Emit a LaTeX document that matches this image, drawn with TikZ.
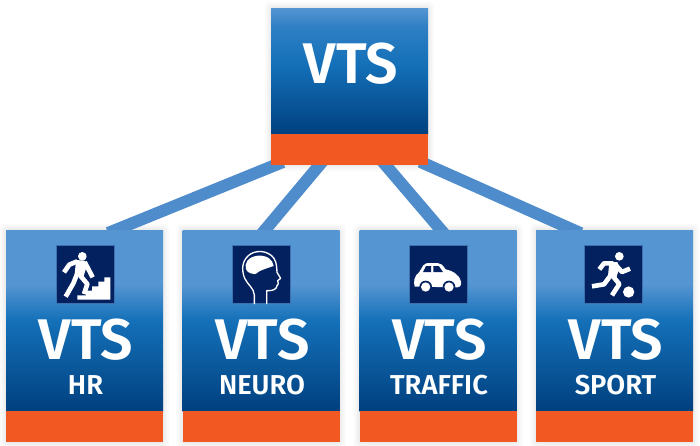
\documentclass[tikz,border=0pt]{standalone}
\usepackage{fontspec}
\setmainfont{Fira Sans}
\newfontfamily\vtsfont[UprightFont=* SemiBold,BoldFont=* SemiBold]{Fira Sans}
\usetikzlibrary{backgrounds}
\definecolor{vtsA}{HTML}{5595D2}
\definecolor{vtsB}{HTML}{1470B8}
\definecolor{vtsB2}{HTML}{2F7FC4}
\definecolor{vtsC}{HTML}{00407F}
\definecolor{vtsOrange}{HTML}{F25822}
\definecolor{vtsLine}{HTML}{4F8CCB}
\definecolor{vtsNavy}{HTML}{03215F}
\pgfdeclareverticalshading{topgrad}{100bp}{color(0bp)=(vtsC); color(25bp)=(vtsC); color(52.5bp)=(vtsB); color(67.5bp)=(vtsB2); color(75bp)=(vtsA); color(100bp)=(vtsA)}
\pgfdeclareverticalshading{lowgrad}{100bp}{color(0bp)=(vtsC); color(25bp)=(vtsC); color(50bp)=(vtsB); color(60bp)=(vtsA); color(100bp)=(vtsA)}
\tikzset{
  tilebox/.style={inner sep=0pt,outer sep=0pt,minimum width=157*0.75pt,anchor=north west},
  bandbox/.style={inner sep=0pt,outer sep=0pt,minimum width=157*0.75pt,minimum height=31*0.75pt,anchor=north west,fill=vtsOrange},
  bigvts/.style={inner sep=0pt,outer sep=0pt,anchor=base,text=white,font=\vtsfont\fontsize{43}{43}\selectfont},
  subvts/.style={inner sep=0pt,outer sep=0pt,anchor=base,text=white,font=\vtsfont\fontsize{20.5}{21}\selectfont},
  iconbox/.style={inner sep=0pt,outer sep=0pt,minimum width=58*0.75pt,minimum height=58*0.75pt,anchor=north west,fill=vtsNavy,draw=vtsA!70!vtsNavy,line width=.3pt},
  link/.style={draw=vtsLine,line width=12*0.75pt,shorten >=-6pt,shorten <=-6pt},
  icon/.style={x=0.25pt,y=-0.25pt},
  iconfill/.style={fill=white,draw=none},
  limb/.style={draw=white,line width=3.5pt,line join=round,line cap=butt},
}
\newcommand{\softshadow}[4]{%
  \begin{pgfonlayer}{background}
  \foreach \s in {1,2.5,4,6}{
    \fill[black,opacity=.018,rounded corners=3pt] (#1-\s,#2-\s) rectangle (#3+\s,#4+\s);
  }
  \end{pgfonlayer}}
\newcommand{\lowertile}[4]{%
  \softshadow{#2}{230}{#2+157}{442}
  \node[tilebox,minimum height=181*0.75pt,shade,shading=lowgrad] (#1) at (#2,230) {};
  \node[bandbox] (#1band) at (#2,411) {};
  \node[iconbox] (#1icon) at (#2+#3,245) {};
  \node[bigvts] (#1vts) at (#2+80,359) {VTS};
  \node[subvts] (#1sub) at (#2+79.5,394.5) {#4};
}
\begin{document}
\begin{tikzpicture}[x=0.75pt,y=-0.75pt]
\useasboundingbox (0,0) rectangle (700,446);
\begin{pgfonlayer}{background}
\fill[white] (0,0) rectangle (700,446);
\end{pgfonlayer}

\softshadow{271}{8}{428}{165}
\node[tilebox,minimum height=126*0.75pt,shade,shading=topgrad] (top) at (271,8) {};
\node[bandbox] (topband) at (271,134) {};
\node[bigvts] (topvts) at (351,83) {VTS};

\lowertile{hr}{6}{49.7}{HR}
\lowertile{neuro}{182.5}{49.5}{NEURO}
\lowertile{traffic}{359.5}{49.5}{TRAFFIC}
\lowertile{sport}{536}{48}{SPORT}

\begin{pgfonlayer}{background}
\path[link] ([xshift=-74*0.75pt]topband.south) -- ([xshift=31*0.75pt]hr.north);
\path[link] ([xshift=-30*0.75pt]topband.south) -- ([xshift=4*0.75pt]neuro.north);
\path[link] ([xshift=36*0.75pt]topband.south) -- ([xshift=3*0.75pt]traffic.north);
\path[link] ([xshift=78*0.75pt]topband.south) -- ([xshift=-41*0.75pt]sport.north);
\end{pgfonlayer}

% stairs walker
\begin{scope}[shift={(50,240)},icon]
\fill[iconfill] (97,49) circle (13);
\fill[iconfill] (78,60) -- (104,62) -- (112,72) -- (100,112) -- (74,104) -- cycle;
\draw[limb] (82,64) -- (58,74) -- (42,97);
\draw[limb] (104,66) -- (128,112);
\draw[limb] (82,100) -- (70,130) -- (47,170);
\draw[limb] (90,106) -- (112,132) -- (102,162);
\fill[iconfill] (82,179) -- (82,166) -- (108,166) -- (108,152) -- (126,152) -- (126,139) -- (145,139) -- (145,125) -- (163,125) -- (163,112) -- (181,112) -- (181,179) -- cycle;
\end{scope}

% head with brain
\begin{scope}[shift={(228,240)},icon]
\draw[white,line width=1pt,line join=round] (79,192) -- (79,165) .. controls (78,145) and (60,135) .. (50,115) .. controls (40,90) and (42,65) .. (60,48) .. controls (80,28) and (120,30) .. (138,55) .. controls (147,70) and (146,85) .. (147,97) -- (158,115) -- (149,122) -- (151,131) -- (147,137) .. controls (146,148) and (135,153) .. (116,152) -- (116,192);
\fill[iconfill] (54,88) .. controls (48,70) and (60,50) .. (90,47) .. controls (115,45) and (135,58) .. (137,78) .. controls (125,82) and (105,88) .. (92,95) .. controls (85,103) and (75,105) .. (68,100) .. controls (62,97) and (56,95) .. (54,88) -- cycle;
\end{scope}

% car
\begin{scope}[shift={(404,240)},icon]
\fill[iconfill] (32,140) .. controls (28,125) and (30,108) .. (46,96) -- (58,76) .. controls (62,70) and (68,69) .. (80,69) -- (100,69) .. controls (110,69) and (115,74) .. (125,88) .. controls (145,92) and (165,102) .. (171,125) .. controls (172,135) and (170,140) .. (160,142) -- cycle;
\fill[vtsNavy] (57,96) -- (66,78) -- (81,78) -- (81,96) -- cycle;
\fill[vtsNavy] (88,78) -- (104,78) -- (117,96) -- (88,96) -- cycle;
\fill[vtsNavy] (65,141) circle (19);
\fill[vtsNavy] (135,141) circle (19);
\fill[iconfill] (65,141) circle (14);
\fill[iconfill] (135,141) circle (14);
\end{scope}

% footballer
\begin{scope}[shift={(580,240)},icon]
\fill[iconfill] (118,49) circle (13);
\fill[iconfill] (146,156) circle (17);
\fill[iconfill] (88,66) -- (112,66) -- (118,84) -- (108,116) -- (84,108) -- cycle;
\draw[limb] (100,70) -- (72,70) -- (58,88);
\draw[limb] (106,74) -- (126,96) -- (150,86);
\draw[limb] (92,106) -- (72,133) -- (36,139);
\draw[limb] (98,108) -- (118,132) -- (96,166);
\end{scope}
\end{tikzpicture}
\end{document}
